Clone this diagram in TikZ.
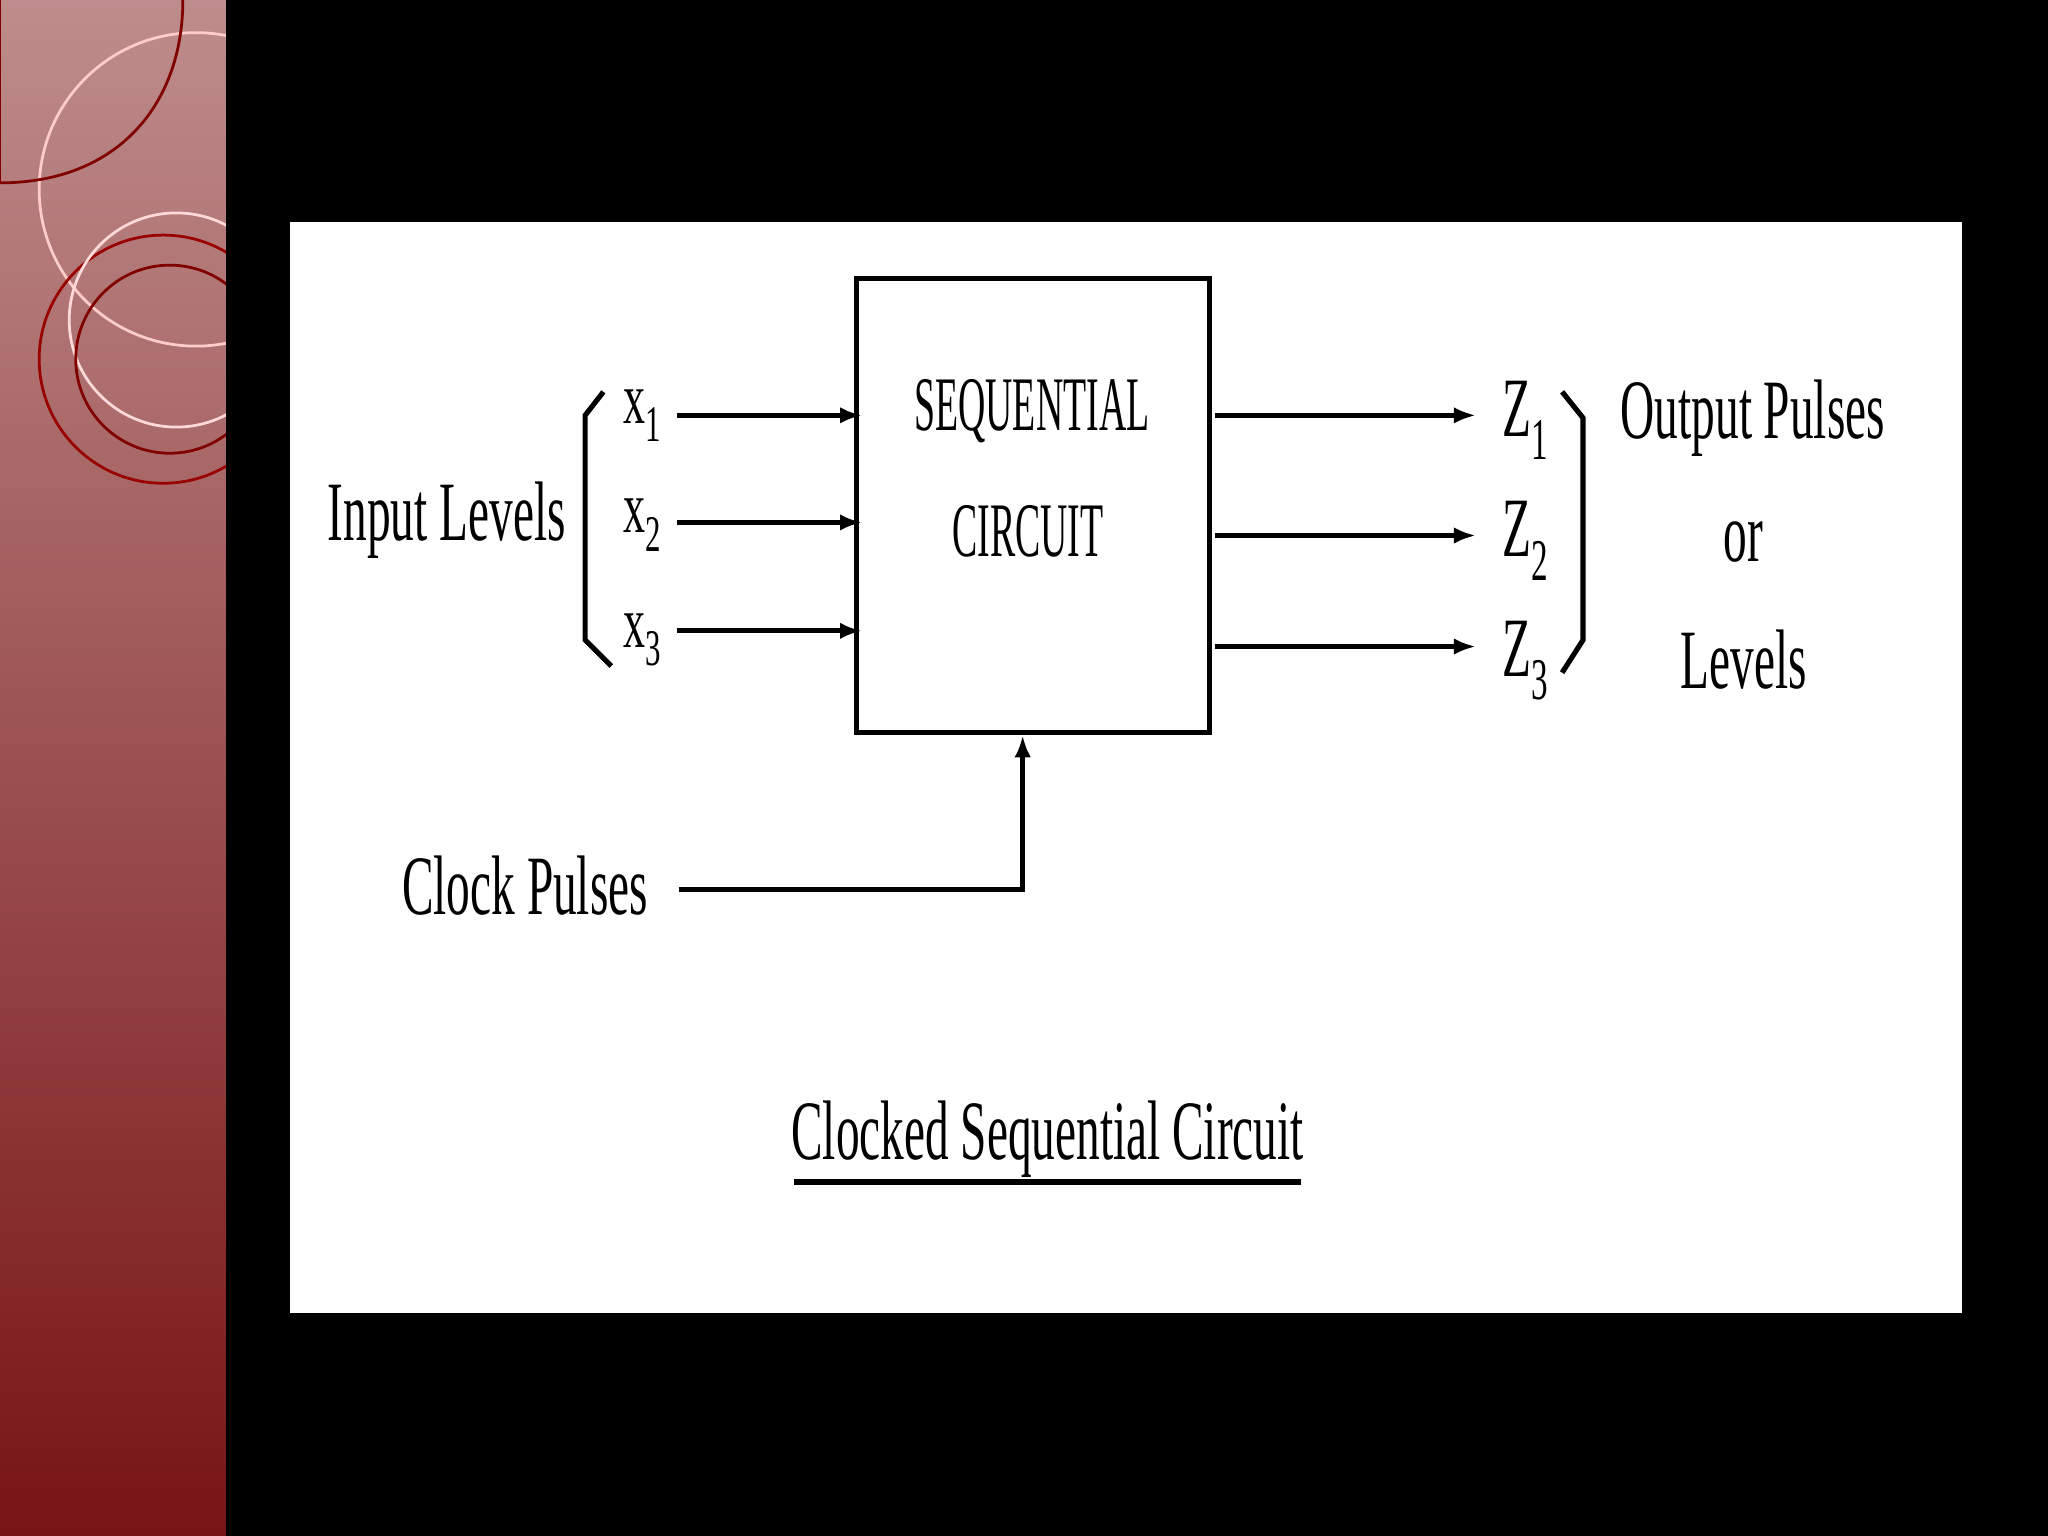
\documentclass[tikz,border=0pt]{standalone}
\usepackage{fontspec}
\setmainfont{Liberation Serif}
\usetikzlibrary{arrows.meta}
\begin{document}
\begin{tikzpicture}[x=0.025cm,y=-0.025cm,
  lbl/.style={font=\fontsize{46}{50}\selectfont,xscale=0.56,inner sep=0},
  bx/.style={font=\fontsize{42}{46}\selectfont,xscale=0.49,inner sep=0},
  sm/.style={font=\fontsize{40}{44}\selectfont,xscale=0.6,inner sep=0},
  wire/.style={line width=2.8pt},
  arr/.style={wire,-{Latex[length=12pt,width=9pt]}}]
\useasboundingbox (0,0) rectangle (1568,1176);
\fill[black] (0,0) rectangle (1568,1176);
\shade[top color={rgb,255:red,190;green,140;blue,140},bottom color={rgb,255:red,120;green,20;blue,20}] (0,0) rectangle (173,1176);
\begin{scope}
\clip (0,0) rectangle (173,1176);
\draw[white!80!red,line width=1.5pt] (150,145) circle (120);
\draw[red!50!black,line width=1.5pt] (0,140) -- (0,0);
\draw[red!50!black,line width=1.5pt] (0,140) .. controls (90,140) and (140,80) .. (140,0);
\draw[red!60!black,line width=1.5pt] (125,275) circle (95);
\draw[white!85!red,line width=1.5pt] (135,245) circle (82);
\draw[red!50!black,line width=1.5pt] (130,275) circle (72);
\end{scope}
\fill[white] (222,170) rectangle (1502,1005);
\node[draw,line width=2.8pt,minimum width=270*0.025cm,minimum height=348*0.025cm] (box) at (791,387) {};
\node[bx] at (790,315) {SEQUENTIAL};
\node[bx] at (787,407) {CIRCUIT};
\node[sm] (x1) at (492,318) {x\textsubscript{1}};
\node[sm] (x2) at (492,402) {x\textsubscript{2}};
\node[sm] (x3) at (492,490) {x\textsubscript{3}};
\coordinate (a1) at (518,318); \coordinate (b1) at (660,318);
\coordinate (a2) at (518,400); \coordinate (b2) at (660,400);
\coordinate (a3) at (518,483); \coordinate (b3) at (660,483);
\draw[arr] (a1) -- (b1); \draw[arr] (a2) -- (b2); \draw[arr] (a3) -- (b3);
\draw[wire] (462,300) -- (448,318) -- (448,490) -- (468,510);
\node[lbl] (in) at (342,398) {Input Levels};
\coordinate (c1) at (930,318); \coordinate (d1) at (1130,318);
\coordinate (c2) at (930,410); \coordinate (d2) at (1130,410);
\coordinate (c3) at (930,495); \coordinate (d3) at (1130,495);
\draw[arr] (c1) -- (d1); \draw[arr] (c2) -- (d2); \draw[arr] (c3) -- (d3);
\node[lbl] (z1) at (1168,322) {Z\textsubscript{1}};
\node[lbl] (z2) at (1168,414) {Z\textsubscript{2}};
\node[lbl] (z3) at (1168,506) {Z\textsubscript{3}};
\draw[wire] (1196,300) -- (1212,320) -- (1212,490) -- (1196,515);
\node[lbl] at (1342,320) {Output Pulses};
\node[lbl] at (1335,415) {or};
\node[lbl] at (1335,505) {Levels};
\node[lbl] (clk) at (402,678) {Clock Pulses};
\coordinate (e) at (520,681); \coordinate (f) at (783,681);
\draw[arr] (e) -- (f) -- (box.south -| f);
\node[lbl] (t) at (802,872) {Clocked Sequential Circuit};
\draw[wire] (608,905) -- (996,905);
\end{tikzpicture}
\end{document}
